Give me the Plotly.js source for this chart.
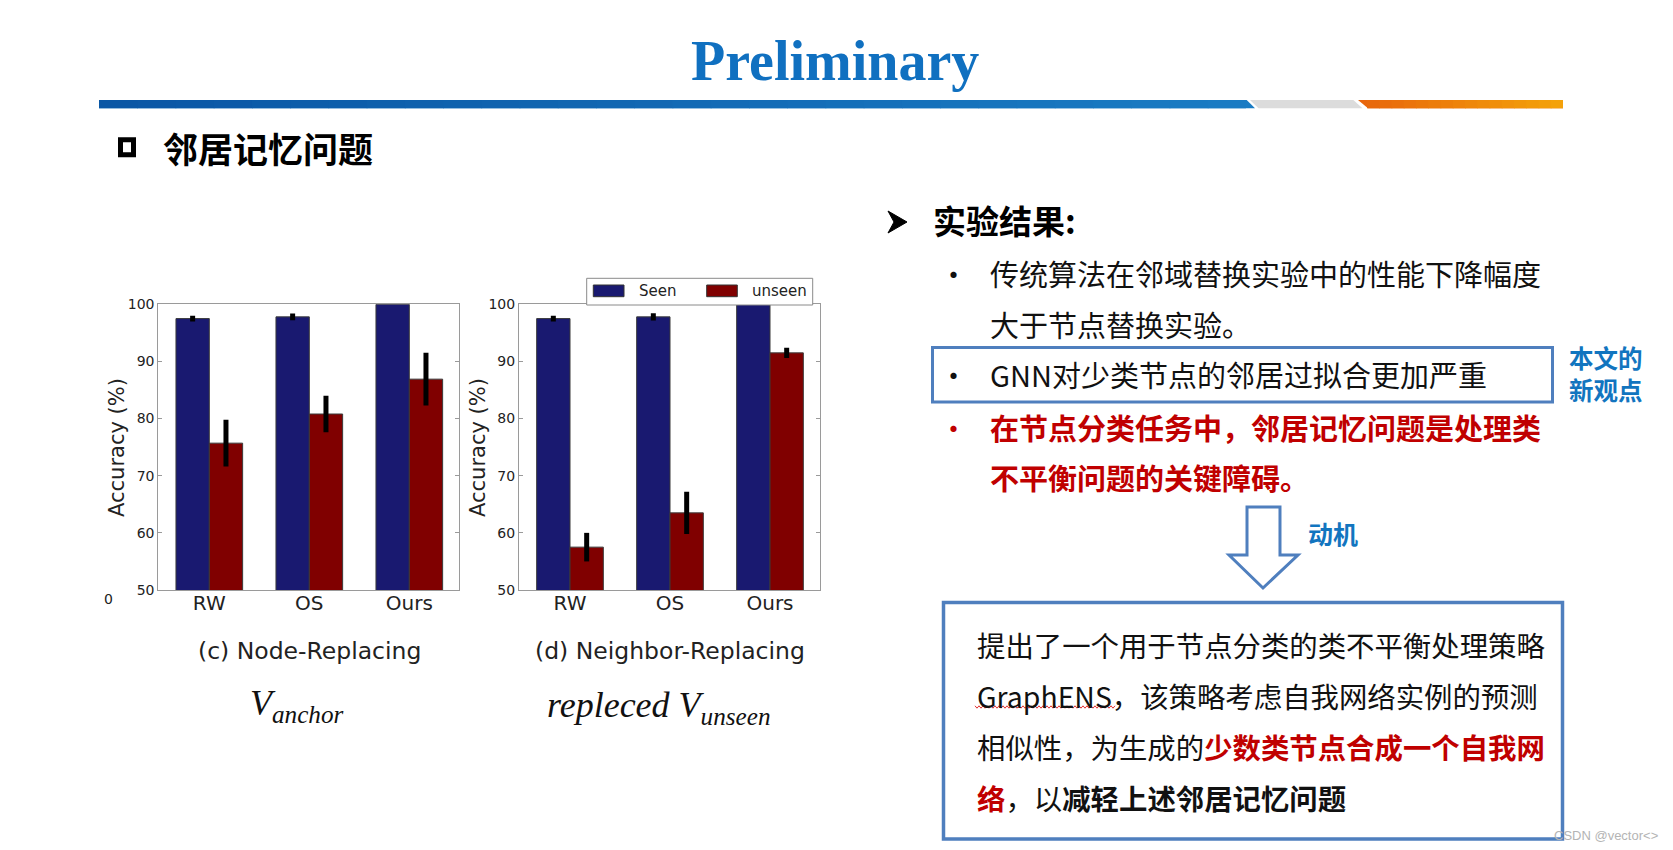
<!DOCTYPE html>
<html>
<head>
<meta charset="utf-8">
<script src="https://cdn.plot.ly/plotly-3.0.1.min.js"></script>
<style>
  html, body { margin: 0; padding: 0; background: #ffffff; }
  #chart { width: 1673px; height: 850px; }
</style>
</head>
<body>
<div id="chart"></div>
<script>
// ---------------- data ----------------
const categories = ['RW', 'OS', 'Ours'];
const seriesNames = ['Seen', 'unseen'];

// (c) Node-Replacing
const nodeSeen = [97.5, 97.8, 100];
const nodeSeenErr = [0.5, 0.6, 0];
const nodeUnseen = [75.7, 80.8, 86.9];
const nodeUnseenErr = [4.1, 3.2, 4.6];

// (d) Neighbor-Replacing
const neighborSeen = [97.5, 97.8, 100];
const neighborSeenErr = [0.5, 0.65, 0];
const neighborUnseen = [57.5, 63.5, 91.5];
const neighborUnseenErr = [2.5, 3.7, 0.9];

const yTicks = [50, 60, 70, 80, 90, 100];

// ---------------- helpers ----------------
const W = 1673, H = 850;
const X = x => x / W;
const Y = y => 1 - y / H;
const SEEN_COLOR = '#191970';
const UNSEEN_COLOR = '#800000';
const CJK = 'Noto Sans CJK SC, Noto Sans, sans-serif';
const MPL = 'DejaVu Sans, sans-serif';

function path(points) {
  return 'M' + points.map(p => X(p[0]).toFixed(5) + ',' + Y(p[1]).toFixed(5)).join('L') + 'Z';
}
function hex2rgb(h) { return [1,3,5].map(i => parseInt(h.substr(i,2),16)); }
function mix(c0, c1, t) {
  const a = hex2rgb(c0), b = hex2rgb(c1);
  return 'rgb(' + a.map((v,i) => Math.round(v + (b[i]-v)*t)).join(',') + ')';
}
function gradRects(x0, x1, y0, y1, c0, c1, n) {
  const out = [];
  const step = (x1 - x0) / n;
  for (let i = 0; i < n; i++) {
    out.push({type:'rect', xref:'paper', yref:'paper',
      x0: X(x0 + i*step), x1: X(Math.min(x1, x0 + (i+1)*step + 0.8)),
      y0: Y(y1), y1: Y(y0), line:{width:0}, fillcolor: mix(c0, c1, (i+0.5)/n), layer:'below'});
  }
  return out;
}
function barTrace(name, vals, errs, color, xa, ya) {
  return {
    type:'bar', name:name, x:categories, y:vals, xaxis:xa, yaxis:ya,
    marker:{color:color, line:{color:'#3a3a3a', width:1}},
    error_y:{type:'data', array:errs, visible:true, color:'#000000', thickness:5, width:0},
    showlegend:false, hoverinfo:'skip'
  };
}

const traces = [
  barTrace(seriesNames[0], nodeSeen, nodeSeenErr, SEEN_COLOR, 'x', 'y'),
  barTrace(seriesNames[1], nodeUnseen, nodeUnseenErr, UNSEEN_COLOR, 'x', 'y'),
  barTrace(seriesNames[0], neighborSeen, neighborSeenErr, SEEN_COLOR, 'x2', 'y2'),
  barTrace(seriesNames[1], neighborUnseen, neighborUnseenErr, UNSEEN_COLOR, 'x2', 'y2')
];

function xAxis(d0, d1, anchor) {
  return {domain:[X(d0), X(d1)], anchor:anchor, type:'category', range:[-0.51, 2.5],
    showline:true, mirror:true, linecolor:'#9a9a9a', linewidth:1, ticks:'',
    showgrid:false, zeroline:false, fixedrange:true, ticklabelstandoff:-5,
    tickfont:{family:MPL, size:20, color:'#222222'}};
}
function yAxis(anchor) {
  return {domain:[Y(590), Y(304.3)], anchor:anchor, range:[50, 100], tickvals:yTicks,
    ticks:'inside', ticklen:4, tickcolor:'#9a9a9a', mirror:'ticks', showline:true,
    linecolor:'#9a9a9a', linewidth:1, showgrid:false, zeroline:false, fixedrange:true,
    tickfont:{family:MPL, size:14, color:'#222222'}};
}

// ---------------- shapes ----------------
let shapes = [];
// header bar
shapes.push({type:'path', xref:'paper', yref:'paper', path:path([[99,100],[1246.7,100],[1255,108.3],[99,108.3]]),
  fillcolor:'#1a7cc4', line:{width:0}, layer:'below'});
shapes = shapes.concat(gradRects(99, 1246, 100, 108.3, '#0a56a4', '#1a7cc4', 30));
shapes.push({type:'path', xref:'paper', yref:'paper', path:path([[1250,100],[1353.3,100],[1362.5,108.3],[1258.5,108.3]]),
  fillcolor:'#dcdcdc', line:{width:0}, layer:'below'});
shapes.push({type:'path', xref:'paper', yref:'paper', path:path([[1358,100],[1563,100],[1563,108.3],[1368,108.3]]),
  fillcolor:'#e8660c', line:{width:0}, layer:'below'});
shapes = shapes.concat(gradRects(1367, 1563, 100, 108.3, '#e8670c', '#f4a30a', 16));

// heading square
shapes.push({type:'rect', xref:'paper', yref:'paper', x0:X(120.5), x1:X(133.5), y0:Y(154.8), y1:Y(139.8),
  line:{color:'#000000', width:5}, fillcolor:'rgba(0,0,0,0)'});

// legend of right chart
shapes.push({type:'rect', xref:'paper', yref:'paper', x0:X(586.7), x1:X(812.7), y0:Y(305), y1:Y(278.3),
  line:{color:'#8a8a8a', width:1}, fillcolor:'#ffffff'});
shapes.push({type:'rect', xref:'paper', yref:'paper', x0:X(593.3), x1:X(624), y0:Y(296.7), y1:Y(285),
  line:{color:'#333333', width:1}, fillcolor:SEEN_COLOR});
shapes.push({type:'rect', xref:'paper', yref:'paper', x0:X(706.7), x1:X(737.3), y0:Y(296.7), y1:Y(285),
  line:{color:'#333333', width:1}, fillcolor:UNSEEN_COLOR});

// arrow-head bullet
shapes.push({type:'path', xref:'paper', yref:'paper', path:path([[888,211],[907,222],[888,233],[894,222]]),
  fillcolor:'#000000', line:{color:'#000000', width:1}});

// box around GNN line
shapes.push({type:'rect', xref:'paper', yref:'paper', x0:X(932.5), x1:X(1552.5), y0:Y(402), y1:Y(347.5),
  line:{color:'#4f7fbe', width:3}, fillcolor:'rgba(0,0,0,0)'});

// hollow down arrow
shapes.push({type:'path', xref:'paper', yref:'paper',
  path:path([[1247,507],[1280,507],[1280,555],[1298,555],[1263,588],[1229,555],[1247,555]]),
  fillcolor:'#ffffff', line:{color:'#4f7fbe', width:3}});

// bottom box
shapes.push({type:'rect', xref:'paper', yref:'paper', x0:X(943.5), x1:X(1562.5), y0:Y(839), y1:Y(602.5),
  line:{color:'#4f7fbe', width:3.5}, fillcolor:'rgba(0,0,0,0)'});

// wavy spell-check underline under GraphENS
(function(){
  let d = '';
  for (let x = 975, i = 0; x <= 1115; x += 2, i++) {
    const y = 707 + (i % 2 ? 1.2 : -1.2);
    d += (i === 0 ? 'M' : 'L') + X(x).toFixed(5) + ',' + Y(y).toFixed(5);
  }
  shapes.push({type:'path', xref:'paper', yref:'paper', path:d, line:{color:'#e03030', width:1}});
})();

// ---------------- annotations ----------------
const ann = [];
function txt(text, x, y, size, opts) {
  opts = opts || {};
  ann.push(Object.assign({
    text:text, xref:'paper', yref:'paper', x:X(x), y:Y(y),
    xanchor:opts.xanchor || 'left', yanchor:'middle', showarrow:false,
    font:{family:opts.family || CJK, size:size, color:opts.color || '#111111', weight:opts.weight || 'normal'},
    textangle:opts.angle || 0
  }, opts.extra || {}));
}

txt('Preliminary', 834.5, 61, 56, {xanchor:'center', family:'Liberation Serif, Times New Roman, serif', color:'#1070c0', weight:'bold'});
txt('邻居记忆问题', 161, 148, 35, {weight:'bold', color:'#000000'});

// chart captions
txt('Accuracy (%)', 117, 448, 21, {xanchor:'center', family:MPL, color:'#222222', angle:-90});
txt('Accuracy (%)', 478, 448, 21, {xanchor:'center', family:MPL, color:'#222222', angle:-90});
txt('0', 108, 599, 14, {xanchor:'center', family:MPL, color:'#222222'});
txt('Seen', 636.7, 291, 15, {family:MPL, color:'#222222'});
txt('unseen', 750, 291, 15, {family:MPL, color:'#222222'});
txt('(c) Node-Replacing', 309, 651, 23.5, {xanchor:'center', family:MPL, color:'#222222'});
txt('(d) Neighbor-Replacing', 669.5, 651, 23.5, {xanchor:'center', family:MPL, color:'#222222'});
txt('<i>V</i><sub><i>anchor</i></sub>', 297, 705, 36, {xanchor:'center', family:'Liberation Serif, serif', color:'#111111'});
txt('<i>repleced V</i><sub><i>unseen</i></sub>', 658.5, 707, 36, {xanchor:'center', family:'Liberation Serif, serif', color:'#111111'});

// right side text
txt('实验结果:', 931, 220, 33, {weight:'bold', color:'#000000'});
txt('•', 954, 273, 29, {xanchor:'center'});
txt('传统算法在邻域替换实验中的性能下降幅度', 988, 273, 29);
txt('大于节点替换实验。', 988, 324, 29);
txt('•', 954, 374, 29, {xanchor:'center'});
txt('GNN对少类节点的邻居过拟合更加严重', 988, 374, 29);
txt('•', 954, 427, 29, {xanchor:'center', color:'#c00000'});
txt('在节点分类任务中，邻居记忆问题是处理类', 988, 427, 29, {weight:'bold', color:'#c00000'});
txt('不平衡问题的关键障碍。', 988, 477, 29, {weight:'bold', color:'#c00000'});
txt('本文的<br>新观点', 1567, 373, 24.5, {weight:'bold', color:'#1275bf'});
txt('动机', 1306, 533, 25, {weight:'bold', color:'#1275bf'});

txt('提出了一个用于节点分类的类不平衡处理策略', 975, 644, 28.4);
txt('GraphENS，该策略考虑自我网络实例的预测', 975, 695, 28.4);
txt('相似性，为生成的<b><span style="color:#c00000">少数类节点合成一个自我网</span></b>', 975, 746, 28.4);
txt('<b><span style="color:#c00000">络</span></b>，以<b>减轻上述邻居记忆问题</b>', 975, 797, 28.4);

txt('CSDN @vector<>', 1606, 835, 13, {xanchor:'center', family:'Liberation Sans, sans-serif', color:'#b4b4b4'});

const layout = {
  width:W, height:H, margin:{l:0, r:0, t:0, b:0},
  paper_bgcolor:'#ffffff', plot_bgcolor:'#ffffff',
  barmode:'group', bargap:1/3, bargroupgap:0,
  showlegend:false,
  xaxis:xAxis(158.3, 459.3, 'y'), yaxis:yAxis('x'),
  xaxis2:xAxis(519, 820, 'y2'), yaxis2:yAxis('x2'),
  shapes:shapes, annotations:ann
};

Plotly.newPlot('chart', traces, layout, {displayModeBar:false, staticPlot:true});
</script>
</body>
</html>
